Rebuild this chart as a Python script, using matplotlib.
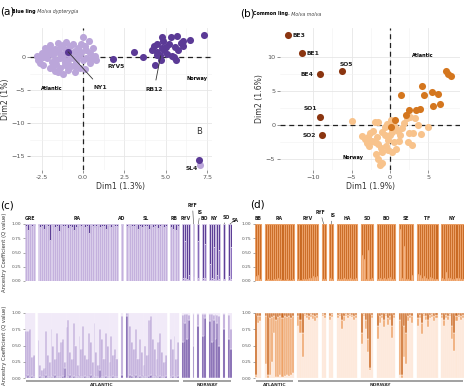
import numpy as np
import matplotlib
matplotlib.use("Agg")
import matplotlib.pyplot as plt

# ---------------- PCA data: (a) Blue ling ----------------
a_atl_x = [-2.7,-2.5,-2.4,-2.3,-2.2,-2.1,-2.0,-2.0,-1.9,-1.8,-1.7,-1.7,-1.6,-1.5,-1.5,-1.4,-1.4,-1.3,-1.2,-1.2,
           -1.1,-1.0,-1.0,-0.9,-0.9,-0.8,-0.8,-0.7,-0.6,-0.6,-0.5,-0.5,-0.4,-0.3,-0.3,-0.2,-0.1,-0.1,0.0,0.1,
           0.2,0.2,0.4,0.4,0.6,0.7,0.8,0.0,0.35,-2.6,-2.2,-1.9,-1.6,-1.3,-1.1,-0.7,-0.4,-0.2,-1.8,-2.4,
           -1.2,-0.9,-0.5,0.1,0.5,-1.5,-2.8,4.8,7.1]
a_atl_y = [-0.4,0.6,-1.2,1.3,-0.1,0.9,-1.6,1.8,-0.7,0.3,1.2,-2.1,-1.0,2.1,0.7,-0.2,-1.7,1.5,-2.6,0.2,
           -1.2,2.3,1.0,-0.5,-2.0,1.6,0.3,-1.4,2.0,-0.2,0.9,-2.3,-0.9,1.4,0.1,-1.6,2.0,0.7,-0.5,-1.8,
           1.1,-0.1,0.6,-0.9,1.4,0.1,-0.5,3.1,2.5,-0.9,0.3,1.0,-0.4,0.5,-0.7,0.6,-0.4,0.4,-1.3,0.0,
           1.9,-1.0,-1.4,1.6,-0.3,-2.3,0.2,2.2,-16.3]
a_nor_x = [3.1,3.6,4.8,5.3,5.7,7.3,6.45,5.95,6.05,5.55,4.3,4.2,4.5,4.9,4.65,5.1,5.5,5.6,5.4,4.35,
           4.75,5.2,5.75,4.85,4.5,5.0,6.05,4.5,4.7,-0.9,1.8,7.0]
a_nor_y = [0.75,0.0,3.1,3.0,3.25,3.35,2.65,2.15,1.75,1.5,1.75,1.1,0.75,1.0,0.25,0.5,0.0,-0.4,0.1,-1.25,
           1.4,2.0,1.0,2.5,2.0,1.5,2.5,0.25,-0.4,0.8,-0.3,-15.6]

# ---------------- PCA data: (b) Common ling ----------------
b_out_x = [-13.3,-11.4,-6.3,-9.1,-9.1,-8.9]
b_out_y = [13.25,10.6,7.9,7.5,1.15,-1.5]
b_out_lab = ["BE3","BE1","SO5","BE4","SO1","SO2"]
b_atl_x = [7.3,7.5,7.9,4.2,5.4,6.25,4.4,1.4,6.45,5.65,3.9,2.5,3.35,2.05,0.7,0.1]
b_atl_y = [8.0,7.6,7.25,5.7,4.95,4.65,4.5,4.5,3.05,2.8,2.4,2.2,2.2,1.5,0.8,-0.2]
b_nor_x = [-4.9,-3.6,-3.3,-3.0,-2.7,-2.4,-2.0,-1.7,-1.5,-1.2,-1.0,-1.8,-1.5,-1.1,-1.3,-0.5,-0.3,0.0,0.3,0.5,
           0.8,0.3,-0.2,-1.0,-0.7,-0.4,-1.6,-2.2,-2.6,-1.9,0.1,0.4,0.6,1.0,1.3,1.2,1.8,2.2,2.6,3.2,
           2.5,2.4,3.0,2.9,3.7,5.0,4.0,-0.6,1.5,-2.9]
b_nor_y = [0.6,-1.6,-2.0,-2.6,-3.0,-2.3,-2.5,-1.8,-2.8,-3.4,-4.0,-4.3,-5.0,-5.5,-5.8,-3.0,-2.2,-1.5,-1.0,-2.5,
           -3.5,-4.0,-3.6,-1.0,-0.3,0.2,0.4,-0.8,-1.2,0.5,0.8,0.5,-0.3,-0.8,-1.5,-2.3,0.3,1.0,1.2,1.0,
           -1.2,-2.5,-1.2,-2.9,0.0,-0.3,-1.3,-1.5,-0.4,-1.8]

# ---------------- Structure data: (c) Blue ling ----------------
c_groups = ["GRE","RA","AD","SL","RB","RYV","RYF","IS","BO","NY","SO","SA"]
c_counts = [5,43,1,22,5,4,1,1,2,6,1,2]
c_norway_from = 5   # index of first Norway group
c_top_dark = [0.03,0.10,0.02,0.04,0.02,
              0.02,0.05,0.03,0.08,0.02,0.04,0.28,0.03,0.02,0.06,0.03,0.12,0.02,0.04,0.03,0.02,0.07,0.03,0.05,0.10,
              0.06,0.02,0.04,0.03,0.02,0.05,0.03,0.15,0.02,0.04,0.06,0.03,0.02,0.05,0.03,0.04,0.08,0.02,0.03,0.05,
              0.02,0.03,0.04,
              0.02,
              0.03,0.05,0.02,0.04,0.03,0.02,0.08,0.03,0.05,0.02,0.04,0.03,0.09,0.02,0.06,0.03,0.02,0.07,0.03,0.02,0.05,0.03,
              0.05,0.08,0.03,0.10,0.04,
              0.95,0.30,0.97,0.90,
              0.92,
              0.30,
              0.95,0.35,
              0.70,0.95,0.40,0.98,0.90,0.45,
              0.96,
              0.92,0.40]
c_top_mid = [0,0,0,0,0,
             0,0,0,0,0,0,0,0,0,0,0,0,0,0,0,0,0,0,0,0,
             0,0,0,0,0,0,0,0,0,0,0,0,0,0,0,0,0,0,0,0,
             0,0,0,
             0,
             0,0,0,0,0,0,0,0,0,0,0,0,0,0,0,0,0,0,0,0,0,0,
             0,0,0,0,0,
             0.03,0.65,0.02,0.08,
             0.06,
             0.65,
             0.03,0.60,
             0.28,0.03,0.57,0.01,0.08,0.52,
             0.02,
             0.06,0.57]
c_bot_dark = [0.02,0.05,0.02,0.03,0.01,
              0.01,0.03,0.02,0.01,0.04,0.02,0.01,0.03,0.02,0.05,0.02,0.01,0.02,0.03,0.15,0.02,0.01,0.04,0.02,0.03,
              0.01,0.02,0.05,0.02,0.01,0.03,0.02,0.01,0.04,0.02,0.03,0.01,0.02,0.12,0.02,0.01,0.03,0.02,0.01,0.02,
              0.03,0.02,0.01,
              0.05,
              0.95,0.02,0.04,0.03,0.02,0.05,0.01,0.03,0.02,0.04,0.01,0.02,0.03,0.05,0.02,0.01,0.04,0.02,0.03,0.01,0.02,0.03,
              0.02,0.03,0.01,0.02,0.03,
              0.55,0.85,0.60,0.90,
              0.50,
              0.80,
              0.65,0.92,
              0.88,0.55,0.90,0.60,0.85,0.50,
              0.75,
              0.60,0.45]
c_bot_mid = [0.70,0.68,0.73,0.30,0.35,
             0.58,0.17,0.10,0.14,0.68,0.33,0.24,0.72,0.48,0.25,0.68,0.39,0.53,0.57,0.10,0.76,0.89,0.36,0.28,0.82,
             0.49,0.18,0.60,0.43,0.79,0.32,0.28,0.69,0.51,0.23,0.82,0.39,0.18,0.63,0.58,0.29,0.67,0.48,0.24,0.63,
             0.32,0.43,0.29,
             0.90,
             0.05,0.98,0.76,0.52,0.43,0.70,0.29,0.57,0.38,0.16,0.49,0.33,0.87,0.90,0.58,0.44,0.26,0.53,0.67,0.39,0.23,0.32,
             0.58,0.42,0.64,0.28,0.52,
             0.42,0.13,0.38,0.07,
             0.48,
             0.18,
             0.33,0.06,
             0.10,0.43,0.07,0.38,0.12,0.45,
             0.23,
             0.37,0.30]

# ---------------- Structure data: (d) Common ling ----------------
d_groups = ["BB","RA","RYV","RYF","IS","HA","SO","BO","SE","TF","NY"]
d_counts = [3,14,10,2,2,10,6,9,7,10,11]
d_norway_from = 2
d_top_light = [0.08,0.10,0.03,
               0.02,0.03,0.02,0.02,0.03,0.04,0.05,0.03,0.02,0.02,0.03,0.02,0.02,0.03,
               0.03,0.02,0.03,0.03,0.04,0.05,0.06,0.08,0.07,0.09,
               0.03,0.04,
               0.05,0.03,
               0.03,0.04,0.03,0.05,0.04,0.03,0.05,0.04,0.03,0.05,
               0.45,0.38,0.04,0.55,0.03,0.06,
               0.04,0.05,0.03,0.06,0.04,0.05,0.07,0.03,0.04,
               0.92,0.05,0.62,0.04,0.03,0.02,0.10,
               0.12,0.10,0.05,0.08,0.06,0.04,0.07,0.05,0.03,0.04,
               0.05,0.04,0.15,0.06,0.05,0.03,0.04,0.06,0.05,0.03,0.04]
d_bot_light = [0.02,0.85,0.88,
               0.22,0.00,0.05,0.25,0.70,0.02,0.02,0.05,0.02,0.03,0.04,0.03,0.04,0.08,
               0.80,0.70,0.32,0.95,0.93,0.90,0.94,0.91,0.88,0.92,
               0.95,0.93,
               0.90,0.94,
               0.92,0.95,0.75,0.88,0.95,0.93,0.96,0.94,0.90,0.93,
               0.52,0.95,0.75,0.40,0.12,0.93,
               0.60,0.85,0.92,0.78,0.95,0.82,0.90,0.62,0.93,
               0.05,0.00,0.32,0.22,0.88,0.93,0.85,
               0.80,0.92,0.67,0.95,0.90,0.78,0.93,0.94,0.87,0.92,
               0.92,0.80,0.93,0.90,0.95,0.60,0.42,0.88,0.94,0.90,0.92]
d_bot_dark = [0.95,0.05,0.04,
              0.05,0.95,0.08,0.06,0.05,0.10,0.06,0.05,0.08,0.04,0.06,0.05,0.07,0.05,
              0.05,0.10,0.30,0.02,0.03,0.04,0.02,0.03,0.05,0.03,
              0.02,0.03,
              0.04,0.02,
              0.03,0.02,0.10,0.05,0.02,0.03,0.02,0.03,0.04,0.03,
              0.30,0.02,0.10,0.40,0.85,0.03,
              0.20,0.05,0.03,0.10,0.02,0.08,0.04,0.20,0.03,
              0.10,0.95,0.20,0.30,0.05,0.03,0.05,
              0.08,0.03,0.15,0.02,0.04,0.10,0.03,0.02,0.05,0.03,
              0.03,0.10,0.03,0.04,0.02,0.20,0.30,0.05,0.03,0.04,0.03]

# ---------------- colours ----------------
PUR_L, PUR_D = "#bba6da", "#5b3a96"
C_LIGHT, C_MID, C_DARK = "#c4b1dd", "#8a6fbd", "#5d3f96"
C2_LIGHT, C2_MID, C2_DARK = "#f1eaf8", "#b8a3d6", "#6c4fa3"
OR_BR, OR_O, OR_P = "#8b3510", "#d4761e", "#f8c38c"
D_TOP_L, D_TOP_D = "#f6b98a", "#c8661e"
D2_L, D2_M, D2_D = "#fde8d9", "#eea267", "#c9651c"

fig = plt.figure(figsize=(4.74, 3.87), dpi=100)
W, H = 474, 387

def ax_px(x0, y0, x1, y1):
    return fig.add_axes([x0 / W, 1 - y1 / H, (x1 - x0) / W, (y1 - y0) / H])

def minimal(ax, xt, yt, xl, yl):
    ax.set_facecolor("white")
    for s in ax.spines.values():
        s.set_visible(False)
    ax.set_xticks(xt)
    ax.set_yticks(yt)
    ax.set_xticks([(xt[i] + xt[i + 1]) / 2 for i in range(len(xt) - 1)], minor=True)
    ax.set_yticks([(yt[i] + yt[i + 1]) / 2 for i in range(len(yt) - 1)], minor=True)
    ax.grid(True, which="major", color="#e6e6e6", lw=0.6)
    ax.grid(True, which="minor", color="#f2f2f2", lw=0.4)
    ax.tick_params(which="major", length=2, width=0.5, color="#666666", labelsize=4.6,
                   labelcolor="#555555", pad=1.5)
    ax.tick_params(which="minor", length=0)
    ax.set_axisbelow(True)
    ax.set_xlabel(xl, fontsize=5.6, color="#333333", labelpad=1.5)
    ax.set_ylabel(yl, fontsize=5.6, color="#333333", labelpad=1.5)

# ---------- panel (a) ----------
axa = ax_px(30, 28, 212, 170)
minimal(axa, [-2.5, 0.0, 2.5, 5.0, 7.5], [-15, -10, -5, 0], "Dim1 (1.3%)", "Dim2 (1%)")
axa.set_xticklabels(["-2.5", "0.0", "2.5", "5.0", "7.5"])
axa.set_xlim(-3.2, 7.8)
axa.set_ylim(-17.1, 4.4)
axa.axhline(0, color="#222222", lw=0.9, ls=(0, (4, 3)))
axa.axvline(0, color="#222222", lw=0.9, ls=(0, (4, 3)))
axa.scatter(a_atl_x, a_atl_y, s=26, color=PUR_L, lw=0, zorder=3)
axa.scatter(a_nor_x, a_nor_y, s=26, color=PUR_D, lw=0, zorder=4)
lab = dict(fontsize=4.3, fontweight="bold", color="#222222", zorder=6)
axa.annotate("NY1", xy=(-0.9, 0.8), xytext=(1.05, -4.6), ha="center", va="center",
             arrowprops=dict(arrowstyle="-", color="#333333", lw=0.6, shrinkA=3, shrinkB=0), **lab)
axa.text(2.0, -1.5, "RYV5", ha="center", va="center", **lab)
axa.annotate("RB12", xy=(4.7, 0.2), xytext=(4.3, -4.9), ha="center", va="center",
             arrowprops=dict(arrowstyle="-", color="#333333", lw=0.6, shrinkA=3, shrinkB=0), **lab)
axa.text(6.6, -16.9, "SL4", ha="center", va="center", **lab)
axa.text(-1.9, -4.8, "Atlantic", fontsize=3.5, fontweight="bold", ha="center", va="center")
axa.text(6.9, -3.2, "Norway", fontsize=3.5, fontweight="bold", ha="center", va="center")
axa.text(7.0, -11.3, "B", fontsize=6, color="#333333", ha="center", va="center")

# ---------- panel (b) ----------
axb = ax_px(280, 28, 460, 170)
minimal(axb, [-10, -5, 0, 5], [-5, 0, 5, 10], "Dim1 (1.9%)", "Dim2 (1.6%)")
axb.set_xlim(-14.3, 9.1)
axb.set_ylim(-6.6, 14.3)
axb.axhline(0, color="#222222", lw=0.9, ls=(0, (4, 3)))
axb.axvline(0, color="#222222", lw=0.9, ls=(0, (4, 3)))
axb.scatter(b_nor_x, b_nor_y, s=26, color=OR_P, lw=0, zorder=3)
axb.scatter(b_atl_x, b_atl_y, s=26, color=OR_O, lw=0, zorder=4)
axb.scatter(b_out_x, b_out_y, s=26, color=OR_BR, lw=0, zorder=5)
offs = {"BE3": (0.6, 0, "left"), "BE1": (0.6, 0, "left"), "SO5": (0.6, 1.1, "center"),
        "BE4": (-0.8, 0, "right"), "SO1": (-0.4, 1.3, "right"), "SO2": (-0.7, 0, "right")}
for x, y, t in zip(b_out_x, b_out_y, b_out_lab):
    dx, dy, ha = offs[t]
    axb.text(x + dx, y + dy, t, ha=ha, va="center", **lab)
axb.text(4.2, 10.3, "Atlantic", fontsize=3.5, fontweight="bold", ha="center", va="center")
axb.text(-4.8, -4.8, "Norway", fontsize=3.5, fontweight="bold", ha="center", va="center")

# ---------- headers ----------
fig.text(0 / W, 1 - 12 / H, "(a)", fontsize=7.5, va="center", ha="left")
fig.text(12.5 / W, 1 - 12 / H, "Blue ling", fontsize=3.4, fontweight="bold", va="center")
fig.text(34 / W, 1 - 12 / H, "- Molva dypterygia", fontsize=3.4, style="italic", color="#444444", va="center")
fig.text(240 / W, 1 - 14 / H, "(b)", fontsize=7.5, va="center", ha="left")
fig.text(253.5 / W, 1 - 14 / H, "Common ling", fontsize=3.4, fontweight="bold", va="center")
fig.text(288 / W, 1 - 14 / H, "- Molva molva", fontsize=3.4, style="italic", color="#444444", va="center")
fig.text(0 / W, 1 - 206 / H, "(c)", fontsize=7.5, va="center", ha="left")
fig.text(250 / W, 1 - 204 / H, "(d)", fontsize=7.5, va="center", ha="left")

# ---------- structure helper ----------
def positions(counts, gap):
    xs, centers, spans, off = [], [], [], 0.0
    for n in counts:
        xs.extend(off + np.arange(n))
        centers.append(off + (n - 1) / 2)
        spans.append((off - 0.5, off + n - 0.5))
        off += n + gap
    return np.array(xs), centers, spans

def structure(ax, xs, comps, colors, edge, ewidth):
    bottom = np.zeros(len(xs))
    for comp, col in zip(comps, colors):
        comp = np.asarray(comp, float)
        ax.bar(xs, comp, bottom=bottom, width=1.0, color=col, edgecolor=edge, lw=ewidth)
        bottom += comp
    ax.set_xlim(xs[0] - 0.6, xs[-1] + 0.6)
    ax.set_ylim(0, 1)
    for s in ax.spines.values():
        s.set_visible(False)
    ax.set_xticks([])
    ax.set_yticks([0, 0.25, 0.5, 0.75, 1.0])
    ax.set_yticklabels(["0.00", "0.25", "0.50", "0.75", "1.00"])
    ax.tick_params(axis="y", length=1.5, width=0.4, labelsize=3.2, labelcolor="#555555",
                   color="#666666", pad=1)

# ----- (c) -----
cx, cc, cs = positions(c_counts, 1.6)
c_top_light = 1 - np.array(c_top_dark) - np.array(c_top_mid)
c_bot_light = 1 - np.array(c_bot_dark) - np.array(c_bot_mid)
axc1 = ax_px(25, 224, 232, 281)
structure(axc1, cx, [c_top_light, c_top_mid, c_top_dark], [C_LIGHT, C_MID, C_DARK], "#dcd1ec", 0.55)
axc2 = ax_px(25, 313, 232, 378)
structure(axc2, cx, [c_bot_dark, c_bot_mid, c_bot_light], [C2_DARK, C2_MID, C2_LIGHT], "#f4eefa", 0.35)
for ax in (axc1, axc2):
    ax.set_ylabel("Ancestry Coefficient (Q value)", fontsize=3.8, color="#333333")
    ax.yaxis.set_label_coords(-0.085, 0.5)

glab = dict(fontsize=3.3, fontweight="bold", color="#222222", ha="center", va="bottom")
c_lead = {"RYF": (-0.5, 1.28), "IS": (0.8, 1.15), "SO": (1.2, 1.07), "SA": (2.6, 1.02)}
for g, xc in zip(c_groups, cc):
    if g in c_lead:
        dx, yy = c_lead[g]
        axc1.annotate(g, xy=(xc, 1.0), xytext=(xc + dx, yy), annotation_clip=False,
                      arrowprops=dict(arrowstyle="-", lw=0.4, color="#444444", shrinkA=0, shrinkB=0),
                      **glab)
    else:
        axc1.text(xc, 1.06, g, clip_on=False, **glab)

# ----- (d) -----
dx_, dc, ds = positions(d_counts, 1.6)
d_top_dark = 1 - np.array(d_top_light)
d_bot_mid = 1 - np.array(d_bot_light) - np.array(d_bot_dark)
axd1 = ax_px(255, 224, 464, 281)
structure(axd1, dx_, [d_top_light, d_top_dark], [D_TOP_L, D_TOP_D], "#eba067", 0.8)
axd2 = ax_px(255, 313, 464, 378)
structure(axd2, dx_, [d_bot_light, d_bot_mid, d_bot_dark], [D2_L, D2_M, D2_D], "#fdf0e6", 0.35)
d_lead = {"RYF": (-1.5, 1.16), "IS": (0.8, 1.1)}
for g, xc in zip(d_groups, dc):
    if g in d_lead:
        ddx, yy = d_lead[g]
        axd1.annotate(g, xy=(xc, 1.0), xytext=(xc + ddx, yy), annotation_clip=False,
                      arrowprops=dict(arrowstyle="-", lw=0.4, color="#444444", shrinkA=0, shrinkB=0),
                      **glab)
    else:
        axd1.text(xc, 1.06, g, clip_on=False, **glab)

# region brackets
def bracket(ax, spans, nfrom):
    regions = [("ATLANTIC", spans[0][0], spans[nfrom - 1][1]), ("NORWAY", spans[nfrom][0], spans[-1][1])]
    for name, a, b in regions:
        ax.plot([a + 0.3, b - 0.3], [-0.045, -0.045], color="#9a9a9a", lw=1.3, clip_on=False,
                solid_capstyle="butt")
        ax.text((a + b) / 2, -0.075, name, fontsize=3.2, fontweight="bold", color="#333333",
                ha="center", va="top", clip_on=False)

bracket(axc2, cs, c_norway_from)
bracket(axd2, ds, d_norway_from)

fig.savefig("out.png", dpi=100)
